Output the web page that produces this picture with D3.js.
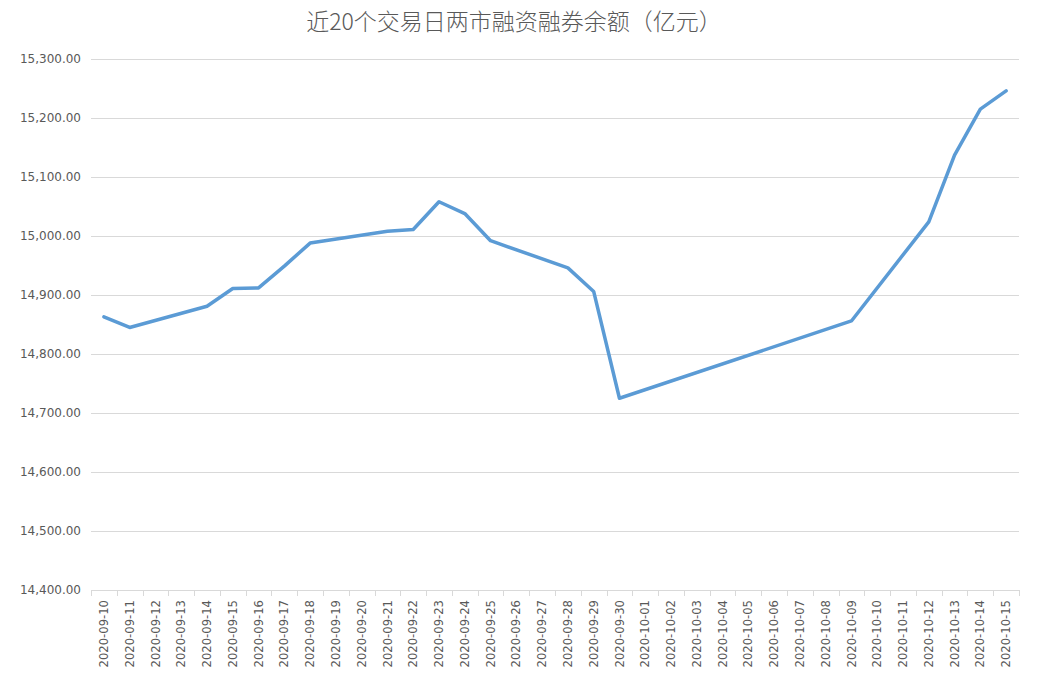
<!DOCTYPE html>
<html>
<head>
<meta charset="utf-8">
<script src="https://cdn.jsdelivr.net/npm/d3@7"></script>
<style>
  body { margin: 0; background: #fff; }
  text { fill: #595959; }
</style>
</head>
<body>
<div id="vis"></div>
<script>
// calendar days shown on the x axis
var categories = ["2020-09-10","2020-09-11","2020-09-12","2020-09-13","2020-09-14","2020-09-15",
  "2020-09-16","2020-09-17","2020-09-18","2020-09-19","2020-09-20","2020-09-21","2020-09-22",
  "2020-09-23","2020-09-24","2020-09-25","2020-09-26","2020-09-27","2020-09-28","2020-09-29",
  "2020-09-30","2020-10-01","2020-10-02","2020-10-03","2020-10-04","2020-10-05","2020-10-06",
  "2020-10-07","2020-10-08","2020-10-09","2020-10-10","2020-10-11","2020-10-12","2020-10-13",
  "2020-10-14","2020-10-15"];

// the 20 trading days and their balance (亿元)
var tradingDays = ["2020-09-10","2020-09-11","2020-09-14","2020-09-15","2020-09-16","2020-09-17",
  "2020-09-18","2020-09-21","2020-09-22","2020-09-23","2020-09-24","2020-09-25","2020-09-28",
  "2020-09-29","2020-09-30","2020-10-09","2020-10-12","2020-10-13","2020-10-14","2020-10-15"];
var balance = [14863, 14845, 14881, 14911, 14912, 14949, 14988, 15008, 15011, 15058,
  15038, 14992, 14946, 14906, 14725, 14856, 15024, 15137, 15215, 15246];

var yTicks = [14400, 14500, 14600, 14700, 14800, 14900, 15000, 15100, 15200, 15300];

var width = 1039, height = 678;
var plotLeft = 91, plotRight = 1019, plotTop = 59, plotBottom = 590;

var svg = d3.select("#vis").append("svg").attr("width", width).attr("height", height);

var x = d3.scaleBand().domain(categories).range([plotLeft, plotRight]).padding(0);
var y = d3.scaleLinear().domain([14400, 15300]).range([plotBottom, plotTop]);

// title
svg.append("text")
    .attr("x", 514).attr("y", 30)
    .attr("text-anchor", "middle")
    .style("font-family", "'Noto Sans CJK SC', sans-serif")
    .style("font-size", "23px")
    .style("font-weight", 300)
    .text("近20个交易日两市融资融券余额（亿元）");

// gridlines
svg.append("g").selectAll("line")
    .data(yTicks.slice(1))
    .enter().append("line")
    .attr("x1", plotLeft).attr("x2", plotRight)
    .attr("y1", function(d) { return Math.round(y(d)) + 0.5; })
    .attr("y2", function(d) { return Math.round(y(d)) + 0.5; })
    .attr("stroke", "#d9d9d9").attr("stroke-width", 1);

// y labels
svg.append("g").selectAll("text")
    .data(yTicks)
    .enter().append("text")
    .attr("x", 81)
    .attr("y", function(d) { return y(d); })
    .attr("dy", "0.35em")
    .attr("text-anchor", "end")
    .style("font-family", "'DejaVu Sans', sans-serif")
    .style("font-size", "12px")
    .text(function(d) { return d3.format(",.2f")(d); });

// x axis line + ticks at category boundaries
svg.append("line")
    .attr("x1", plotLeft).attr("x2", plotRight)
    .attr("y1", plotBottom + 0.5).attr("y2", plotBottom + 0.5)
    .attr("stroke", "#d9d9d9");

var bounds = categories.map(function(d) { return x(d); }).concat([plotRight]);
svg.append("g").selectAll("line")
    .data(bounds)
    .enter().append("line")
    .attr("x1", function(d) { return Math.round(d) + 0.5; })
    .attr("x2", function(d) { return Math.round(d) + 0.5; })
    .attr("y1", plotBottom).attr("y2", plotBottom + 6)
    .attr("stroke", "#d9d9d9");

// x labels, rotated
svg.append("g").selectAll("text")
    .data(categories)
    .enter().append("text")
    .attr("transform", function(d) {
        return "translate(" + (x(d) + x.bandwidth() / 2) + "," + 600 + ") rotate(-90)";
    })
    .attr("dy", "0.35em")
    .attr("text-anchor", "end")
    .style("font-family", "'DejaVu Sans', sans-serif")
    .style("font-size", "11.6px")
    .text(function(d) { return d; });

// line
var pts = tradingDays.map(function(d, i) { return [d, balance[i]]; });
var line = d3.line()
    .x(function(d) { return x(d[0]) + x.bandwidth() / 2; })
    .y(function(d) { return y(d[1]); });

svg.append("path")
    .datum(pts)
    .attr("d", line)
    .attr("fill", "none")
    .attr("stroke", "#5b9bd5")
    .attr("stroke-width", 3.5)
    .attr("stroke-linejoin", "round")
    .attr("stroke-linecap", "round");
</script>
</body>
</html>
